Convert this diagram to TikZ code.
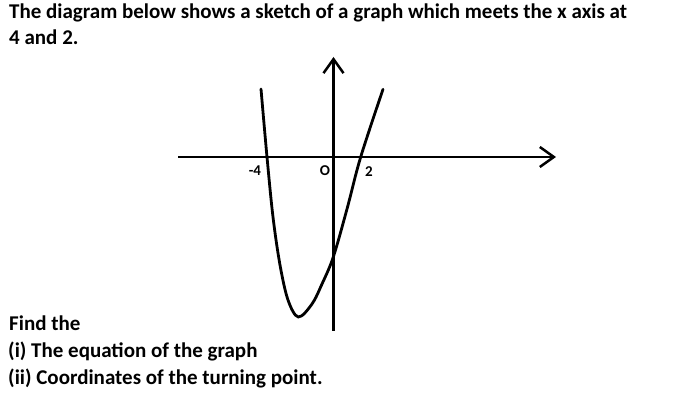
\documentclass[tikz,border=0pt]{standalone}
\usepackage{fontspec}
\setmainfont{Carlito}
\usepackage{tikz}
\usetikzlibrary{arrows.meta}
\tikzstyle{txt} = [anchor=base west, inner sep=0, font=\fontsize{21}{25}\selectfont\bfseries]
\tikzstyle{lbl} = [inner sep=0, font=\fontsize{15}{18}\selectfont\bfseries]
\tikzstyle{axis} = [line width=2.8pt, -{Straight Barb[length=14pt,width=20pt,line width=2.5pt]}]

\begin{document}
\begin{tikzpicture}[x=1pt,y=-1pt]
			\useasboundingbox (0,0) rectangle (689,419);
\node[txt] (t1) at (9,19) {The diagram below shows a sketch of a graph which meets the x axis at};
\node[txt] (t2) at (9,45) {4 and 2.};

\coordinate (xs) at (178,157);
\coordinate (xe) at (556,157);
\coordinate (ys) at (333.5,331);
\coordinate (ye) at (333.5,57);
\draw[axis] (xs) -- (xe);
\draw[axis] (ys) -- (ye);

\node[lbl] (m4) at (255,171) {-4};
\node[lbl] (o) at (325,171) {O};
\node[lbl] (p2) at (369,172) {2};

\draw[line width=2.8pt, line cap=round] plot[smooth, tension=0.55] coordinates
	{(261,89) (267,157) (273,217) (280,265) (288,300) (298.3,317) (312,304) (322,284) (333.3,257) (347,209) (360.7,157) (383,89.3)};

\node[txt] (f0) at (9,331) {Find the};
\node[txt] (f1) at (8,358) {(i) The equation of the graph};
\node[txt] (f2) at (8,385) {(ii) Coordinates of the turning point.};
		\end{tikzpicture}
\end{document}
